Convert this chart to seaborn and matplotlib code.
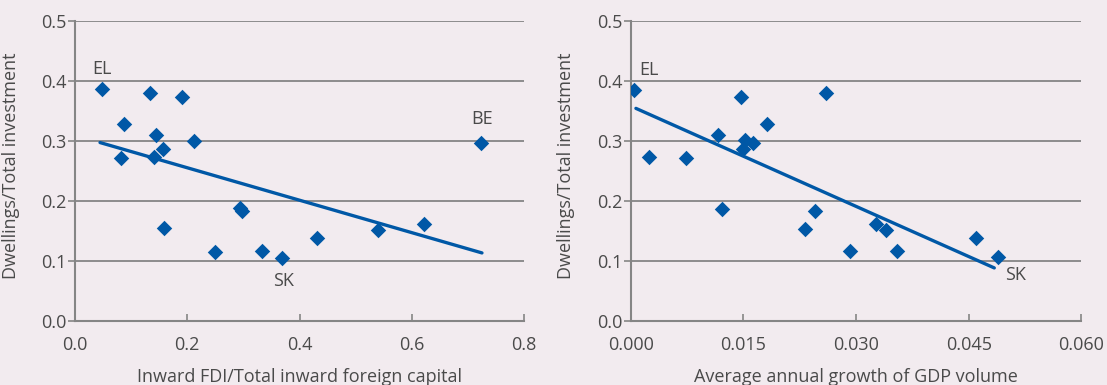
import numpy as np
import pandas as pd
import seaborn as sns
import matplotlib
matplotlib.use('Agg')
import matplotlib.pyplot as plt

# left panel: inward FDI share vs dwellings share
fdi_share = [0.0475, 0.134, 0.190, 0.087, 0.144, 0.212, 0.156, 0.081, 0.141, 0.159,
             0.293, 0.297, 0.249, 0.333, 0.369, 0.431, 0.539, 0.621, 0.723]
dwell_left = [0.386, 0.379, 0.373, 0.328, 0.310, 0.300, 0.287, 0.272, 0.273, 0.154,
              0.188, 0.183, 0.115, 0.116, 0.105, 0.138, 0.151, 0.161, 0.296]
left_labels = {0: 'EL', 18: 'BE', 14: 'SK'}
# trend line ends as drawn in the source
left_trend_x = [0.0445, 0.725]
left_trend_y = [0.297, 0.113]

# right panel: GDP growth vs dwellings share
gdp_growth = [0.0004, 0.0024, 0.0074, 0.0116, 0.0147, 0.0152, 0.0150, 0.0163, 0.0182, 0.0260,
              0.0122, 0.0232, 0.0246, 0.0292, 0.0327, 0.0340, 0.0354, 0.0460, 0.0489]
dwell_right = [0.385, 0.273, 0.272, 0.310, 0.373, 0.301, 0.287, 0.296, 0.328, 0.379,
               0.187, 0.153, 0.183, 0.116, 0.161, 0.152, 0.117, 0.138, 0.106]
right_labels = {0: 'EL', 18: 'SK'}
right_trend_x = [0.0007, 0.0484]
right_trend_y = [0.354, 0.088]

y_ticks = [0.0, 0.1, 0.2, 0.3, 0.4, 0.5]
left_xticks = [0.0, 0.2, 0.4, 0.6, 0.8]
right_xticks = [0.0, 0.015, 0.030, 0.045, 0.060]

df_left = pd.DataFrame({'x': fdi_share, 'y': dwell_left})
df_right = pd.DataFrame({'x': gdp_growth, 'y': dwell_right})

sns.set_theme(style='white')
plt.rcParams['font.family'] = ['Open Sans', 'DejaVu Sans']

bg = '#F2EBEF'
blue = '#0058A6'
grey = '#858585'
txt = '#4A4A4A'

fig = plt.figure(figsize=(11.07, 3.85), dpi=100, facecolor=bg)
ax1 = fig.add_axes([0.0678, 0.167, 0.4056, 0.779])
ax2 = fig.add_axes([0.5697, 0.167, 0.4072, 0.779])

# label offsets in pixels
left_offsets = {0: (0, 20), 18: (1, 24), 14: (1, -23)}
right_offsets = {0: (15, 20), 18: (17, -18)}

panels = [
    (ax1, df_left, left_trend_x, left_trend_y, left_xticks, '{:.1f}',
     'Inward FDI/Total inward foreign capital', left_labels, left_offsets),
    (ax2, df_right, right_trend_x, right_trend_y, right_xticks, '{:.3f}',
     'Average annual growth of GDP volume', right_labels, right_offsets),
]

for ax, d, tx, ty, xt, fmt, xlabel, labels, offs in panels:
    ax.set_facecolor(bg)
    for yv in y_ticks[1:]:
        ax.axhline(yv, color=grey, lw=1.3, zorder=0)
    sns.lineplot(x=tx, y=ty, ax=ax, color=blue, lw=2.4, zorder=2)
    sns.scatterplot(data=d, x='x', y='y', ax=ax, marker='D', s=62, color=blue,
                    linewidth=0, zorder=3)
    for i, name in labels.items():
        ax.annotate(name, (d['x'][i], d['y'][i]), xytext=offs[i], textcoords='offset pixels',
                    ha='center', va='center', fontsize=13, color=txt)
    ax.set_xlim(xt[0], xt[-1])
    ax.set_ylim(0, 0.5)
    ax.set_xticks(xt)
    ax.set_xticklabels([fmt.format(v) for v in xt])
    ax.set_yticks(y_ticks)
    ax.set_yticklabels(['{:.1f}'.format(v) for v in y_ticks])
    ax.tick_params(axis='x', direction='in', length=5, width=1.2, color=grey, pad=11,
                   labelsize=13, labelcolor=txt, bottom=True)
    ax.tick_params(axis='y', direction='out', length=5, width=1.2, color=grey, pad=1,
                   labelsize=13, labelcolor=txt, left=True)
    for s in ['top', 'right']:
        ax.spines[s].set_visible(False)
    for s in ['left', 'bottom']:
        ax.spines[s].set_color(grey)
        ax.spines[s].set_linewidth(1.5)
    ax.set_xlabel(xlabel, fontsize=13, color=txt)
    ax.set_ylabel('Dwellings/Total investment', fontsize=13, color=txt)
    ax.xaxis.set_label_coords(0.5, -0.157)
    ax.yaxis.set_label_coords(-0.123, 0.517)

fig.savefig('out.png', dpi=100, facecolor=bg)
